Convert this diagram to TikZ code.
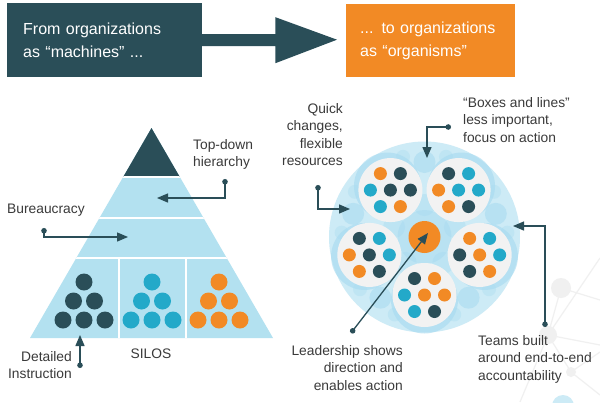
\documentclass[tikz,border=0pt]{standalone}
\usepackage{fontspec}
\setmainfont{Liberation Sans}
\usetikzlibrary{arrows.meta,calc}
\definecolor{darkc}{HTML}{2A4E58}
\definecolor{orangec}{HTML}{F28A25}
\definecolor{cyanc}{HTML}{23A9C9}
\definecolor{pyrc}{HTML}{B3E1F0}
\definecolor{ringc}{HTML}{CDEBF6}
\definecolor{petalc}{HTML}{A6DAF0}
\definecolor{wcircc}{HTML}{F2F2F2}
\definecolor{netc}{HTML}{F0F0F0}
\definecolor{txtc}{HTML}{3A3A3A}
\newcommand\teamdots[8]{%
  \fill[wcircc] (#1) circle (32pt);
  \fill[#2] ($(#1)+(-10,-16.5)$) circle (6.5pt);
  \fill[#3] ($(#1)+(10,-16.5)$) circle (6.5pt);
  \fill[#4] ($(#1)+(-20,0)$) circle (6.5pt);
  \fill[#5] ($(#1)+(0,0)$) circle (6.5pt);
  \fill[#6] ($(#1)+(20,0)$) circle (6.5pt);
  \fill[#7] ($(#1)+(-10,16.5)$) circle (6.5pt);
  \fill[#8] ($(#1)+(10,16.5)$) circle (6.5pt);
}
\begin{document}
\begin{tikzpicture}[x=1pt,y=-1pt,
  box/.style={rectangle, inner ysep=0pt, minimum height=74pt, align=left,
    text=white, font=\fontsize{16}{23}\selectfont, anchor=north west},
  lbl/.style={inner sep=0pt, font=\fontsize{13.8}{17.5}\selectfont, text=txtc},
  conn/.style={draw=darkc, line width=1.3pt,
    arrows={Circle[length=5.5pt]-Triangle[length=11pt,width=9pt]}},
  netline/.style={draw=netc, line width=1.2pt}]
\useasboundingbox (0,0) rectangle (600,402);
\fill[white] (0,0) rectangle (600,402);

% faint network background
\coordinate (nA) at (561,288);
\coordinate (nB) at (548,335);
\coordinate (nC) at (571,372);
\coordinate (nD) at (563,406);
\draw[netline] (nB) -- (600,258);
\draw[netline] (nB) -- (520,402);
\draw[netline] (nB) -- (nC) -- (600,395);
\draw[netline] (nA) -- (600,300);
\draw[netline] (nA) -- (nB);
\draw[netline] (nC) -- (600,352);
\draw[netline] (nB) -- (600,345);
\fill[netc] (nA) circle (10pt);
\fill[netc] (nB) circle (9pt);
\fill[netc] (nC) circle (5pt);
\fill[ringc] (nD) circle (11pt);

% header boxes
\node[box, fill=darkc, text width=163pt, inner xsep=16pt] (from) at (7,3)
  {From organizations\\as “machines” ...};
\node[box, fill=orangec, text width=141pt, inner xsep=14pt, minimum height=73pt] (to) at (346,4)
  {... to organizations\\as “organisms”};
\fill[darkc] ($(from.east)+(-1,-6)$) -- ($(from.east)+(73,-6)$) -- ($(from.east)+(73,-23)$)
  -- ($(to.west)+(-9,-1)$) -- ($(from.east)+(73,23)$) -- ($(from.east)+(73,6)$)
  -- ($(from.east)+(-1,6)$) -- cycle;

% pyramid
\coordinate (apex) at (151.5,128);
\coordinate (bl) at (30,338);
\coordinate (br) at (273,338);
\fill[pyrc] (apex) -- (br) -- (bl) -- cycle;
\begin{scope}
  \clip (apex) -- (br) -- (bl) -- cycle;
  \fill[darkc] (0,100) rectangle (300,177);
  \draw[white, line width=1.6pt] (0,177) -- (300,177) (0,218) -- (300,218) (0,258) -- (300,258)
    (119,258) -- (119,345) (186,258) -- (186,345);
\end{scope}
\foreach \cx/\cl in {84/darkc, 152/cyanc, 219/orangec}{
  \foreach \dx/\dy in {0/282, -10.5/301, 10.5/301, -21/320, 0/320, 21/320}{
    \fill[\cl] (\cx+\dx,\dy) circle (8.5pt);
  }
}

% pyramid labels
\node[lbl, anchor=north west, align=left] (topdown) at (193,139) {Top-down\\hierarchy};
\node[lbl, anchor=north west, align=left] (bureau) at (7,204) {Bureaucracy};
\node[lbl, anchor=north east, align=right] (detail) at (72,351) {Detailed\\Instruction};
\node[lbl, anchor=center] (silos) at (151,354) {SILOS};
\coordinate (tdS) at (225,179); \coordinate (tdE) at (157,198);
\coordinate (buS) at (44,228);  \coordinate (buE) at (128,237);
\coordinate (deS) at (80,368);  \coordinate (deE) at (80,335);
\draw[conn] (tdS) |- (tdE);
\draw[conn] (buS) |- (buE);
\draw[conn] (deS) -- (deE);

% organism circle
\coordinate (C) at (424.5,237);
\fill[ringc] (C) circle (95.5pt);
\foreach \a in {54,126,198,270,342}{
  \fill[petalc, opacity=0.55] ($(C)+(\a:75)$) circle (11pt);
  \fill[petalc, opacity=0.35] ($(C)+(\a+15:83)$) circle (7pt);
  \fill[petalc, opacity=0.35] ($(C)+(\a-15:83)$) circle (7pt);
  \fill[petalc, opacity=0.4] ($(C)+(\a:32)$) circle (11pt);
}
\foreach \a in {18,90,162,234,306}{
  \fill[petalc, opacity=0.6] ($(C)+(\a:63)$) circle (33.5pt);
}
\fill[petalc, opacity=0.5] (C) circle (27pt);
\coordinate (wTL) at ($(C)+(234:58)$);
\coordinate (wTR) at ($(C)+(306:58)$);
\coordinate (wL)  at ($(C)+(162:58)$);
\coordinate (wR)  at ($(C)+(18:58)$);
\coordinate (wB)  at ($(C)+(90:58)$);
\teamdots{wTL}{orangec}{darkc}{cyanc}{darkc}{darkc}{cyanc}{orangec}
\teamdots{wTR}{darkc}{cyanc}{orangec}{cyanc}{cyanc}{orangec}{darkc}
\teamdots{wL}{darkc}{cyanc}{orangec}{darkc}{cyanc}{orangec}{darkc}
\teamdots{wR}{orangec}{cyanc}{darkc}{orangec}{cyanc}{darkc}{orangec}
\teamdots{wB}{darkc}{orangec}{cyanc}{orangec}{orangec}{cyanc}{darkc}
\fill[orangec] (C) circle (16pt);

% organism labels
\node[lbl, anchor=north east, align=right] (quick) at (343,103) {Quick\\changes,\\flexible\\resources};
\node[lbl, anchor=north west, align=left] (boxes) at (463,97) {“Boxes and lines”\\less important,\\focus on action};
\node[lbl, anchor=north west, align=left] (teams) at (478,335) {Teams built\\around end-to-end\\accountability};
\node[lbl, anchor=north east, align=right] (lead) at (403,345) {Leadership shows\\direction and\\enables action};
\coordinate (qS) at (318,185); \coordinate (qE) at (350,209);
\coordinate (bS) at (451,127); \coordinate (bE) at (427,158);
\coordinate (tS) at (545,327); \coordinate (tE) at (513,226);
\coordinate (lS) at (351,333); \coordinate (lE) at (428,233);
\draw[conn] (qS) |- (qE);
\draw[conn] (bS) -| (bE);
\draw[conn] (tS) |- (tE);
\draw[conn] (lS) -- (lE);
\end{tikzpicture}
\end{document}
